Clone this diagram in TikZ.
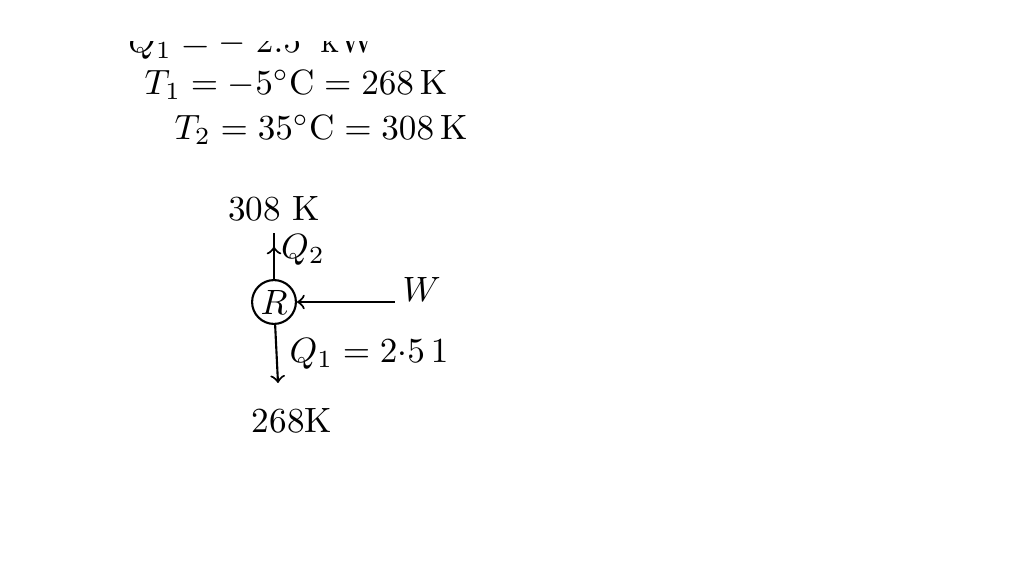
\documentclass[tikz,border=0pt]{standalone}
\usepackage{amssymb}
\usepackage{tikz}
\usetikzlibrary{decorations.markings}

\tikzset{
  txt/.style={inner sep=0pt},
  pipe/.style={draw, semithick, -to},
  midhead/.style={postaction={decorate}, decoration={markings, mark=at position 0.7 with {\arrow{to}}}}
}

\begin{document}
\begin{tikzpicture}[x=0.01cm, y=-0.01cm]
        % Frame
        \useasboundingbox[fill=white] (0,0) rectangle (1024,576);

        %%DATA
        % First line, cut off at the top
        \begin{scope}
          \clip (0,42) rectangle (1024,576);
          \node[txt] (qone) at (252,44) {$Q_1 = -\;2.5\;\;\mathrm{kW}$};
        \end{scope}
        \node[txt] (tone) at (296,85) {$T_1 = -5^\circ\mathrm{C} = 268\,\mathrm{K}$};
        \node[txt] (ttwo) at (321,130) {$T_2 = 35^\circ\mathrm{C} = 308\,\mathrm{K}$};

        %%SKETCH
        % Refrigerator
        \node[draw, semithick, circle, minimum size=44pt*0.01/0.0352778, inner sep=0pt] (R) at (274,302) {$R$};

        % Reservoirs
        \node[txt] (hot) at (274,209) {308 K};
        \node[txt] (cold) at (292,421) {268K};

        % Work input
        \node[txt, anchor=west] (w) at (402,289) {$W$};

        % Heat rejected
        \path[draw, semithick, midhead] (R.north) -- ([yshift=-3pt]hot.south);
        \node[txt] (qtwo) at (303,250) {$Q_2$};

        % Heat absorbed
        \coordinate (qend) at (278,383);
        \path[pipe] (R) -- (qend);
        \node[txt] (qlow) at (369,354) {$Q_1 = 2{\cdot}5\,1$};

        % Work arrow
        \path[pipe] ([xshift=-2pt]w.west |- R) -- (R);
\end{tikzpicture}
\end{document}
